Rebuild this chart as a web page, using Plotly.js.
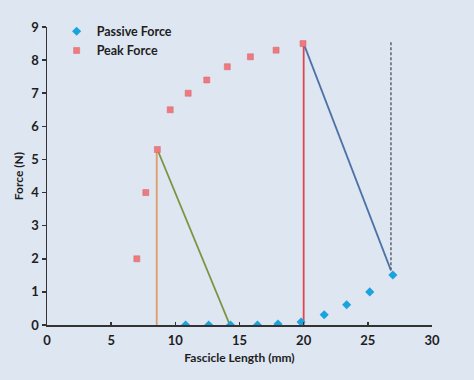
<!DOCTYPE html>
<html>
<head>
<meta charset="utf-8">
<script src="https://cdn.plot.ly/plotly-3.0.1.min.js"></script>
<style>html,body{margin:0;padding:0;background:#dde6f1;}#chart{width:474px;height:380px;}</style>
</head>
<body>
<div id="chart"></div>
<script>
// Passive force (diamonds)
const passiveX = [10.8, 12.6, 14.3, 16.4, 18.0, 19.8, 21.6, 23.35, 25.15, 26.95];
const passiveY = [0.0, 0.0, 0.0, 0.0, 0.03, 0.09, 0.31, 0.61, 1.0, 1.51];
// Peak force (squares)
const peakX = [7.0, 7.7, 8.6, 9.6, 11.0, 12.45, 14.05, 15.85, 17.85, 19.95];
const peakY = [2.0, 4.0, 5.3, 6.5, 7.0, 7.4, 7.8, 8.1, 8.3, 8.5];
// Annotation lines
const orangeX = [8.55, 8.55], orangeY = [0, 5.3];
const greenX = [8.6, 14.25], greenY = [5.3, 0];
const redX = [20.0, 20.0], redY = [0, 8.5];
const blueX = [20.0, 26.8], blueY = [8.5, 1.65];
const dashX = [26.8, 26.8], dashY = [1.65, 8.55];
const xTicks = [0, 5, 10, 15, 20, 25, 30];
const yTicks = [0, 1, 2, 3, 4, 5, 6, 7, 8, 9];

const lineTrace = (x, y, color, dash, w) => ({
  x: x, y: y, mode: 'lines', type: 'scatter', showlegend: false, hoverinfo: 'skip',
  line: {color: color, width: w || 1.8, dash: dash || 'solid'}
});

const traces = [
  lineTrace(orangeX, orangeY, '#e29b68'),
  lineTrace(greenX, greenY, '#7a9440'),
  lineTrace(redX, redY, '#e0464c'),
  lineTrace(blueX, blueY, '#4d72a8'),
  lineTrace(dashX, dashY, '#5f6070', '3px,2px', 1.5),
  {x: passiveX, y: passiveY, mode: 'markers', type: 'scatter', name: 'Passive Force',
   marker: {symbol: 'diamond', size: 7, color: '#1aa3dd'}},
  {x: peakX, y: peakY, mode: 'markers', type: 'scatter', name: 'Peak Force',
   marker: {symbol: 'square', size: 6, color: '#ec7b80', line: {color: '#e06066', width: 0.5}}}
];

const fam = 'Lato, "Open Sans", sans-serif';
const tickFont = {family: fam, size: 13, color: '#1e1e1e', weight: 'bold'};

const layout = {
  width: 474, height: 380,
  paper_bgcolor: '#dde6f1', plot_bgcolor: '#dde6f1',
  margin: {l: 47, r: 42, t: 27, b: 55},
  font: {family: fam, size: 12, color: '#1e1e1e'},
  showlegend: true,
  legend: {x: 0.025, y: 1.035, xanchor: 'left', yanchor: 'top', bgcolor: 'rgba(0,0,0,0)',
           font: {family: fam, size: 12.5, color: '#1e1e1e', weight: 'bold'}, tracegroupgap: 0, itemwidth: 30},
  xaxis: {
    range: [0, 30], tickvals: xTicks, ticktext: xTicks.map(String), tickfont: tickFont,
    showgrid: false, zeroline: false, showline: true, linecolor: '#333', linewidth: 1.5,
    ticks: 'inside', ticklen: 3, tickcolor: '#333', tickwidth: 1.5, ticklabelstandoff: 3,
    title: {text: '<b>Fascicle Length (mm)</b>', font: {family: fam, size: 12, color: '#1e1e1e'}, standoff: 6}
  },
  yaxis: {
    range: [0, 9], tickvals: yTicks, ticktext: yTicks.map(String), tickfont: tickFont,
    showgrid: false, zeroline: false, showline: true, linecolor: '#333', linewidth: 1.5,
    ticks: 'outside', ticklen: 4, tickcolor: '#333', tickwidth: 1.5,
    title: {text: '<b>Force (N)</b>', font: {family: fam, size: 12, color: '#1e1e1e'}, standoff: 5}
  }
};

Plotly.newPlot('chart', traces, layout, {displayModeBar: false, staticPlot: true});
</script>
</body>
</html>
